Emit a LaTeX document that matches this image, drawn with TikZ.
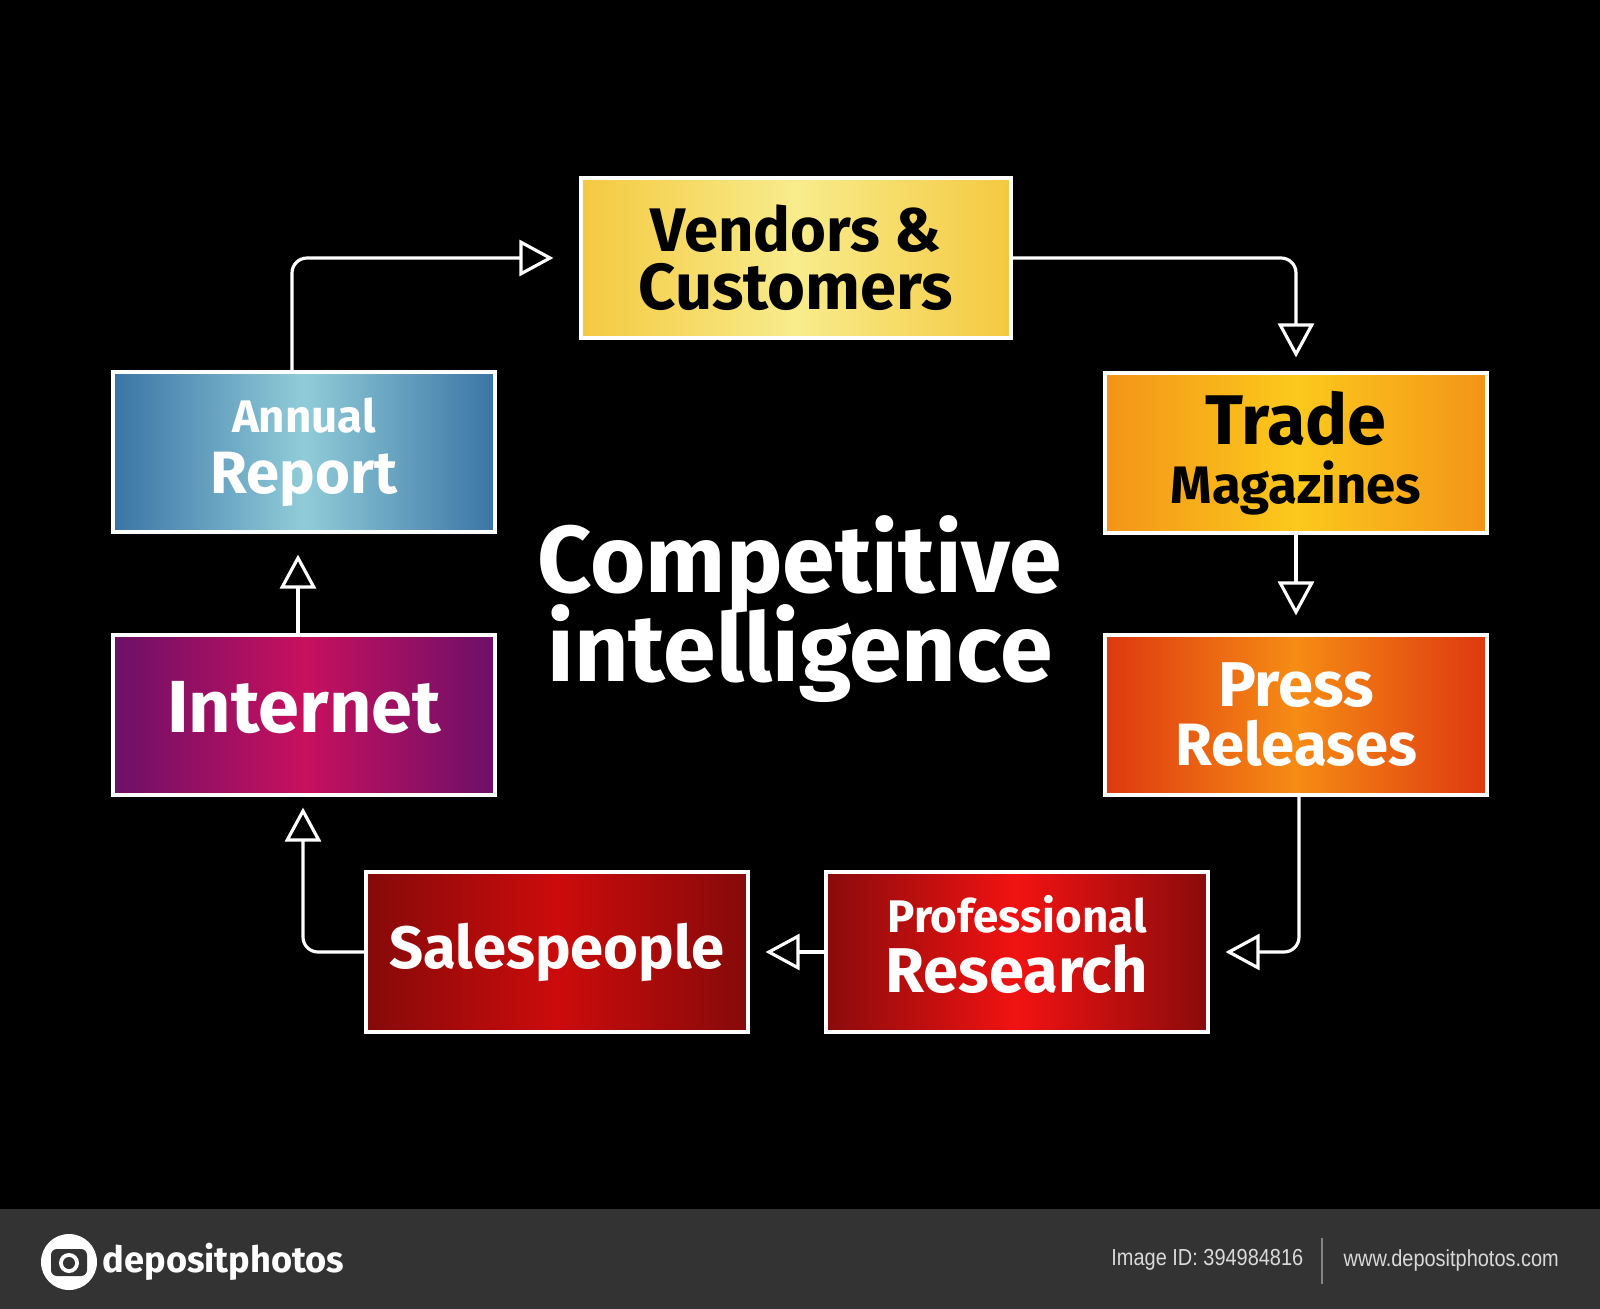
\documentclass[tikz,border=0pt]{standalone}
\usepackage{fontspec}
\setmainfont{Fira Sans}
\newfontfamily\barfont{Liberation Sans}
\usepackage{tikz}
\usetikzlibrary{arrows.meta}
\usetikzlibrary{positioning}
\definecolor{barcolor}{HTML}{333333}
\definecolor{vendedge}{HTML}{F4C940}
\definecolor{vendmid}{HTML}{F8EC8C}
\definecolor{annedge}{HTML}{3A74A6}
\definecolor{annmid}{HTML}{90CCD8}
\definecolor{tradeedge}{HTML}{F39418}
\definecolor{trademid}{HTML}{FCC91C}
\definecolor{inetedge}{HTML}{6C1068}
\definecolor{inetmid}{HTML}{C8105E}
\definecolor{pressedge}{HTML}{DE3810}
\definecolor{pressmid}{HTML}{F68C14}
\definecolor{salesedge}{HTML}{860A0A}
\definecolor{salesmid}{HTML}{CC0B0B}
\definecolor{profedge}{HTML}{8A0B0B}
\definecolor{profmid}{HTML}{F21212}
\def\fs#1{\fontsize{#1}{#1}\selectfont}
\tikzset{
	card/.style={draw=white, line width=0.9pt, inner sep=0pt, minimum width=38.2mm, minimum height=16mm, align=center},
	lines/.style={font={\bfseries\lineskiplimit-40pt\fontsize{10}{#1}\selectfont}},
	flow/.style={draw=white, line width=0.9pt, rounded corners=1.5mm, -{Triangle[open, length=3.4mm, width=3.6mm]}},
	shade/.style 2 args={left color=#1, right color=#1, middle color=#2},
	bartext/.style={text=white!85!black, inner sep=0pt, font=\barfont\fs{6.6}},
}

\begin{document}
\begin{tikzpicture}[x=0.1mm, y=-0.1mm]
% BACKGROUND
\fill[black] (0,0) rectangle (1600,1309);
\useasboundingbox (0,0) rectangle (1600,1309);
\fill[barcolor] (0,1209) rectangle (1600,1309);
% TITLE
\node (title) at (800,609) [text=white, align=center, lines=25.5] {\fs{27}Competitive\\\fs{27}intelligence};
% BOXES
\node[card, lines=16.6, shade={vendedge}{vendmid}, minimum width=43mm, text=black] (vend) at (796,258) {\fs{17.5}Vendors \&\\\fs{18.5}Customers};
\node[card, lines=16.8, shade={tradeedge}{trademid}, text=black] (trade) at (1296,453) {\fs{20}Trade\\\fs{15}Magazines};
\node[card, lines=16.8, shade={pressedge}{pressmid}, text=white] (press) at (1296,715) {\fs{18}Press\\\fs{17}Releases};
\node[card, lines=17.2, shade={profedge}{profmid}, text=white, text depth=1.6mm] (prof) at (1017,952) {\fs{13}Professional\\\fs{18}Research};
\node[card, lines=10, shade={salesedge}{salesmid}, text=white] (sales) at (557,952) {\fs{17}Salespeople};
\node[card, lines=10, shade={inetedge}{inetmid}, text=white, text depth=1.6mm] (inet) at (304,715) {\fs{21}Internet};
\node[card, lines=17.4, shade={annedge}{annmid}, text=white, text depth=1.2mm] (annual) at (304,452) {\fs{13}Annual\\\fs{17}Report};
% ARROWS
\draw[flow] ([xshift=-1.2mm]annual.north) |- ([xshift=-2.6mm]vend.west);
\draw[flow] (vend.east) -| ([yshift=1.4mm]trade.north);
\draw[flow] (trade.south) -- ([yshift=1.8mm]press.north);
\draw[flow] ([xshift=0.3mm]press.south) |- ([xshift=1.6mm]prof.east);
\draw[flow] (prof.west) -- ([xshift=1.6mm]sales.east);
\draw[flow] (sales.west) -| ([xshift=-0.1mm, yshift=-1.1mm]inet.south);
\draw[flow] ([xshift=-0.6mm]inet.north) -- ([xshift=-0.6mm, yshift=-2.1mm]annual.south);
% BAR
\fill[white] (69,1262) circle (28);
\fill[barcolor, rounded corners=0.6mm] (51,1249) rectangle (87,1276);
\fill[white] (69,1263) circle (10);
\fill[barcolor] (69,1263) circle (6);
\node (logo) at (102,1262) [anchor=west, inner sep=0pt, text=white, font=\bfseries\fs{10.3}] {depositphotos};
\node[bartext, anchor=east] (imgid) at (1304,1260) {\scalebox{0.86}[1]{Image ID: 394984816}};
\node[bartext, anchor=west] (site) at (1343,1260) {\scalebox{0.86}[1]{www.depositphotos.com}};
\draw[white!40!barcolor, line width=0.3pt] (1322,1238) -- (1322,1284);
\end{tikzpicture}
\end{document}
